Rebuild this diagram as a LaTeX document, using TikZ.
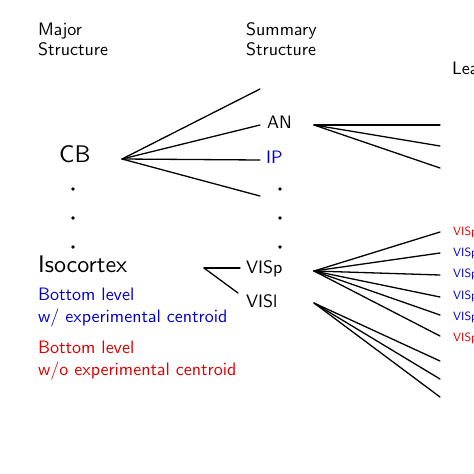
\documentclass[tikz,border=0pt]{standalone}
\usepackage{tikz}
\usetikzlibrary{positioning}
\definecolor{LeafBlue}{HTML}{0000CC}
\definecolor{LeafRed}{HTML}{DD0000}
\font\headfont=cmss10 at 18pt
\font\majorfont=cmss10 at 24pt
\font\leaffont=cmss10 at 12pt
\tikzset{
  head/.style={anchor=base west,inner sep=0pt,align=left,font={\headfont\baselineskip=20pt}},
  major/.style={anchor=base west,inner sep=0pt,font=\majorfont},
  summary/.style={anchor=base west,inner sep=0pt,font=\headfont},
  leaf/.style={anchor=base west,inner sep=0pt,font=\leaffont},
  legend/.style={anchor=base west,inner sep=0pt,align=left,font={\headfont\baselineskip=21.5pt}},
  fan/.style={line width=1.3pt,line cap=round},
  vdot/.style={circle,fill=black,inner sep=0pt,minimum size=3.8pt}
}

\begin{document}
\begin{tikzpicture}[x=1pt,y=-1pt]
  \useasboundingbox (0,0) rectangle (474,474);
  \clip (0,0) rectangle (474,474);

  % column heads
  \node[head] (majorhead) at (38,55) {Major\\Structure};
  \node[head] (summaryhead) at (246,55) {Summary\\Structure};
  \node[head] (leafhead) at (452,74) {Leaf Structure};

  % major structures
  \node[major] (cb) at (59,162) {CB};
  \node[major] (isocortex) at (38,272) {Isocortex};

  % summary structures
  \node[summary] (an) at (267,128) {AN};
  \node[summary,text=LeafBlue] (ip) at (266,163) {IP};
  \node[summary] (visp) at (246,273) {VISp};
  \node[summary] (visl) at (246,307) {VISl};

  % leaf structures
  \foreach \y/\c/\t [count=\i] in {235/LeafRed/VISp1,256/LeafBlue/{VISp2/3},277/LeafBlue/VISp4,
                                   299/LeafBlue/VISp5,320/LeafBlue/VISp6a,341/LeafRed/VISp6b}
    \node[leaf,text=\c] (vispleaf\i) at (453,\y) {\t};

  % legend
  \node[legend,text=LeafBlue] (withcent) at (38,322) {Bottom level\\w/ experimental centroid};
  \node[legend,text=LeafRed] (withoutcent) at (38,375) {Bottom level\\w/o experimental centroid};

  % ellipsis dots
  \foreach \y [count=\i] in {189,218,247} {
    \node[vdot] (majdot\i) at (73,\y) {};
    \node[vdot] (sumdot\i) at (280,\y) {};
  }

  % fans
  \coordinate (cbroot) at (122,159);
  \coordinate (isoroot) at (204,268);
  \coordinate (anroot) at (314,125);
  \coordinate (visproot) at (314,271);
  \coordinate (vislroot) at (314,303);

  \foreach \y [count=\i] in {89,125,160,196} {
    \coordinate (cbend\i) at (260,\y);
    \draw[fan] (cbroot) -- (cbend\i);
  }
  \coordinate (isoend1) at (240,268);
  \coordinate (isoend2) at (238,293);
  \draw[fan] (isoroot) -- (isoend1);
  \draw[fan] (isoroot) -- (isoend2);
  \foreach \y [count=\i] in {125,146,168} {
    \coordinate (anend\i) at (440,\y);
    \draw[fan] (anroot) -- (anend\i);
  }
  \foreach \y [count=\i] in {232,253,275,297,315,336} {
    \coordinate (vispend\i) at (440,\y);
    \draw[fan] (visproot) -- (vispend\i);
  }
  \foreach \y [count=\i] in {361,379,397} {
    \coordinate (vislend\i) at (440,\y);
    \draw[fan] (vislroot) -- (vislend\i);
  }
\end{tikzpicture}
\end{document}
